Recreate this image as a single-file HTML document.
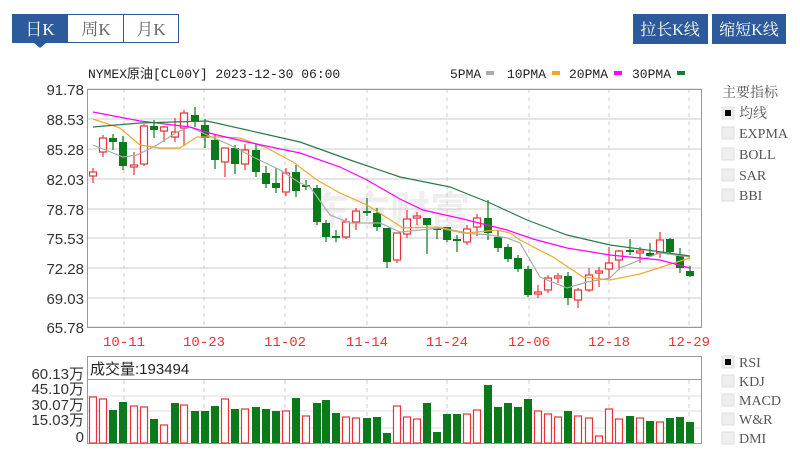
<!DOCTYPE html>
<html><head><meta charset="utf-8"><style>
html,body{margin:0;padding:0;background:#fff;width:800px;height:451px;overflow:hidden}
svg{display:block}
text{font-family:"Liberation Sans","Noto Sans CJK SC",sans-serif}
.m{font-family:"Liberation Mono","Noto Sans CJK SC",monospace}
.s{font-family:"Liberation Serif","Noto Serif CJK SC",serif}
</style></head><body>
<svg id="c" width="800" height="451" xmlns="http://www.w3.org/2000/svg">
<!-- tabs -->
<rect x="12.5" y="14.5" width="166" height="28" fill="#fff" stroke="#2d5a9a"/>
<rect x="12" y="14" width="56" height="29" fill="#2d5a9a"/>
<polygon points="34,43 46,43 40,48" fill="#2d5a9a"/>
<line x1="123.5" y1="14" x2="123.5" y2="42" stroke="#2d5a9a"/>
<text x="40" y="35" font-size="17" fill="#fff" text-anchor="middle" class="s">日K</text>
<text x="96" y="35" font-size="17" fill="#666" text-anchor="middle" class="s">周K</text>
<text x="151" y="35" font-size="17" fill="#666" text-anchor="middle" class="s">月K</text>
<rect x="633" y="14" width="75" height="30" fill="#2d5a9a"/>
<rect x="712" y="14" width="74" height="30" fill="#2d5a9a"/>
<text x="670" y="35" font-size="16" fill="#fff" text-anchor="middle" class="s">拉长K线</text>
<text x="749" y="35" font-size="16" fill="#fff" text-anchor="middle" class="s">缩短K线</text>
<text x="88" y="78" font-size="13" fill="#222" class="m">NYMEX原油[CL00Y] 2023-12-30 06:00</text>
<text x="450" y="78" font-size="13" fill="#222" class="m">5PMA</text><rect x="486" y="71" width="8" height="4" fill="#aaa"/>
<text x="507" y="78" font-size="13" fill="#222" class="m">10PMA</text><rect x="552" y="71" width="8" height="4" fill="#f5a623"/>
<text x="569" y="78" font-size="13" fill="#222" class="m">20PMA</text><rect x="614" y="71" width="8" height="4" fill="#f0f"/>
<text x="632" y="78" font-size="13" fill="#222" class="m">30PMA</text><rect x="677" y="71" width="8" height="4" fill="#1a7a3a"/>
<text x="390" y="225" font-size="40" fill="#eee" text-anchor="middle" font-weight="bold">东方财富</text>
<g id="g"></g>
<text x="722" y="97" font-size="14" fill="#555" class="s">主要指标</text>
</svg>
<script>
const g=document.getElementById('g');let h='';
const ys=[89,119,149,179,209,238,268,298,327],pl=['91.78','88.53','85.28','82.03','78.78','75.53','72.28','69.03','65.78'];
const vx=[124,204,285,367,447,529,609,689];
vx.forEach(x=>{h+=`<line x1="${x}" y1="89" x2="${x}" y2="327" stroke="#ccc" stroke-dasharray="4,4"/><line x1="${x}" y1="380" x2="${x}" y2="443" stroke="#ccc" stroke-dasharray="4,4"/>`});
ys.forEach((y,i)=>{h+=`<line x1="87" y1="${y}" x2="702" y2="${y}" stroke="#ccc"/><text x="84" y="${y+6}" font-size="15" fill="#333" text-anchor="end">${pl[i]}</text>`});
const dl=['10-11','10-23','11-02','11-14','11-24','12-06','12-18','12-29'];
vx.forEach((x,i)=>{h+=`<text x="${x}" y="346" font-size="14" fill="#e33" text-anchor="middle" class="m">${dl[i]}</text>`});
h+=`<rect x="87.5" y="89.5" width="614" height="238" fill="none" stroke="#999"/>`;
// volume
[[396,'60.13万'],[411,'45.10万'],[427,'30.07万'],[442,'15.03万'],[456,'0']].forEach(([y,t],i)=>{h+=`<text x="84" y="${y-17+ (i==4?3:0)}" font-size="15" fill="#333" text-anchor="end">${t}</text>`});
[396,411,428].forEach(y=>h+=`<line x1="87" y1="${y}" x2="702" y2="${y}" stroke="#ddd"/>`);
h+=`<rect x="87.5" y="356.5" width="614" height="87" fill="none" stroke="#999"/><line x1="87" y1="379.5" x2="702" y2="379.5" stroke="#999"/>`;
h+=`<text x="90" y="374" font-size="15" fill="#222">成交量:193494</text>`;
// candles: x,o,c,h,l  (o<c means red? use r flag)
const C=[[93,172,176,168,183,1],[103,138,152,135,157,1],[113,138,142,134,150,0],[123,142,166,136,170,0],[134,165,167,152,175,1],[144,126,164,124,166,1],[154,126,130,120,138,0],[164,127,131,126,142,1],[175,132,137,118,142,1],[184,113,128,110,146,1],[195,115,122,107,127,0],[205,125,138,119,148,0],[215,140,160,135,169,0],[225,148,162,148,177,1],[235,148,164,145,174,0],[245,150,164,144,170,1],[256,150,172,143,177,0],[266,173,184,166,188,0],[276,183,188,168,193,0],[286,173,192,168,196,1],[296,172,191,165,197,0],[306,185,187,180,190,0],[317,188,222,185,225,0],[326,223,237,220,242,0],[336,236,238,230,242,0],[346,222,237,218,239,1],[356,211,222,208,230,1],[367,211,213,198,216,0],[377,213,227,208,231,0],[387,228,262,228,268,0],[397,233,260,233,263,1],[407,219,234,210,238,1],[417,216,218,212,225,1],[427,218,225,218,254,0],[437,228,230,228,239,0],[447,227,240,227,242,0],[457,239,241,235,252,0],[467,229,242,225,245,1],[477,218,227,214,236,1],[488,218,233,200,240,0],[498,237,248,230,252,0],[508,247,259,244,262,0],[518,258,269,255,272,0],[528,269,295,266,297,0],[538,292,294,285,298,1],[548,278,290,275,293,1],[558,276,278,273,283,1],[568,276,298,272,305,0],[578,290,300,288,308,1],[589,275,290,268,292,1],[599,271,273,267,287,1],[609,263,269,247,279,1],[619,251,260,250,270,1],[630,250,252,239,255,0],[640,251,253,247,263,1],[650,253,256,243,257,0],[660,240,253,232,258,1],[670,239,252,238,254,0],[680,256,268,248,273,0],[690,271,276,266,277,0]];
C.forEach(([x,o,c,hi,lo,r])=>{const col=r?'#e8333a':'#0a7a1a';h+=`<line x1="${x}" y1="${hi}" x2="${x}" y2="${lo}" stroke="${col}" stroke-width="1.2"/>`;
const bh=Math.max(c-o,1.5);if(r)h+=`<rect x="${x-3.5}" y="${o}" width="7" height="${bh}" fill="#fff" stroke="${col}" stroke-width="1.2"/>`;else h+=`<rect x="${x-4}" y="${o}" width="8" height="${bh}" fill="${col}"/>`;});
const V=[[397,1],[399,1],[410,0],[402,0],[406,1],[407,1],[419,0],[425,1],[403,0],[405,1],[411,0],[411,0],[406,0],[399,1],[409,0],[409,1],[407,0],[409,0],[411,0],[411,1],[398,0],[416,1],[403,0],[400,0],[413,0],[417,1],[418,1],[418,0],[417,0],[433,0],[406,1],[417,1],[419,1],[403,0],[432,0],[414,0],[414,0],[414,1],[410,1],[385,0],[407,0],[403,0],[407,0],[399,0],[411,1],[414,1],[417,1],[411,0],[416,1],[418,1],[436,1],[409,1],[419,1],[416,0],[418,1],[421,0],[422,1],[418,0],[417,0],[422,0]];
V.forEach(([t,r],i)=>{const x=C[i][0];if(r)h+=`<rect x="${x-3.5}" y="${t}" width="7" height="${443-t}" fill="#fff" stroke="#e8333a" stroke-width="1.2"/>`;else h+=`<rect x="${x-4}" y="${t}" width="8" height="${443-t}" fill="#0a7a1a"/>`;});
const L=(p,c)=>h+=`<polyline points="${p}" fill="none" stroke="${c}" stroke-width="1.2"/>`;
L('93,145 123,157 137,155 157,145 177,132 190,127 207,135 230,145 253,157 280,170 300,183 310,187 330,215 350,223 380,223 400,232 440,228 463,233 490,235 507,238 520,243 540,277 567,288 587,282 610,278 620,268 640,260 660,253 690,257','#aaa');
L('93,119 120,128 140,145 160,148 180,148 197,137 220,137 240,138 267,148 293,162 317,180 340,193 367,205 403,228 437,227 467,233 497,230 510,233 520,240 553,257 583,277 610,280 640,274 677,262 690,258','#f0a830');
L('93,112 140,121 190,127 213,134 247,142 300,153 340,167 367,180 400,199 423,210 463,219 507,230 533,239 567,248 610,255 660,260 690,268','#f0f');
L('93,127 140,123 207,121 247,130 300,142 350,160 400,177 450,187 490,203 527,220 567,235 610,245 640,249 690,256','#2a7a4a');
const cb=(y,t,on)=>{h+=`<rect x="722" y="${y-11}" width="12" height="12" fill="#eee" stroke="#ddd"/>`+(on?`<rect x="725" y="${y-8}" width="6" height="6" fill="#000"/>`:'')+`<text x="739" y="${y}" font-size="14" fill="#555" class="s">${t}</text>`};
[[118,'均线',1],[138,'EXPMA'],[159,'BOLL'],[180,'SAR'],[200,'BBI']].forEach(a=>cb(...a));
[[367,'RSI',1],[386,'KDJ'],[405,'MACD'],[424,'W&amp;R'],[443,'DMI']].forEach(a=>cb(...a));
g.innerHTML=h;
</script>
</body></html>
